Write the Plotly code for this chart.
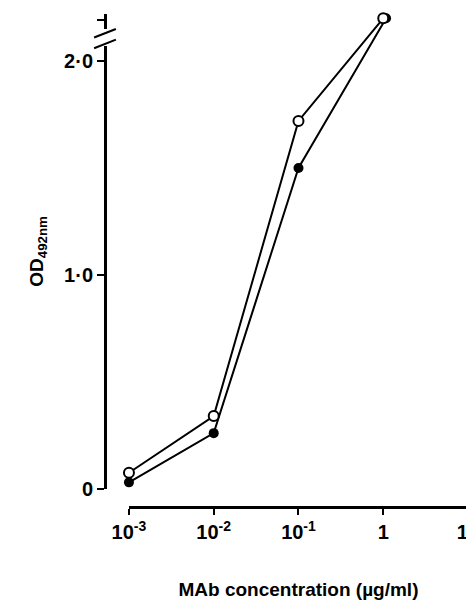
import plotly.graph_objects as go

conc = [1e-3, 1e-2, 1e-1, 1.0]
od_open = [0.075, 0.34, 1.72, 2.2]
conc_filled = [1e-3, 1e-2, 1e-1, 1.08]
od_filled = [0.03, 0.26, 1.50, 2.2]
xtick_vals = [1e-3, 1e-2, 1e-1, 1, 10]
xtick_text = ["<b>10<sup>-3</sup></b>", "<b>10<sup>-2</sup></b>", "<b>10<sup>-1</sup></b>", "<b>1</b>", "<b>10</b>"]
ytick_vals = [0, 1, 2, 2.19]
ytick_text = ["<b>0</b>", "<b>1·0</b>", "<b>2·0</b>", "<b><sup>></sup>2·0</b>"]

fig = go.Figure()
fig.add_trace(go.Scatter(x=conc_filled, y=od_filled, mode="lines+markers", cliponaxis=False,
    line=dict(color="black", width=2), marker=dict(size=10, color="black")))
fig.add_trace(go.Scatter(x=conc, y=od_open, mode="lines+markers", cliponaxis=False,
    line=dict(color="black", width=2),
    marker=dict(size=10, color="white", line=dict(color="black", width=2))))

tf = dict(family="Liberation Sans", size=20, color="black")
fig.update_layout(
    width=474, height=609, plot_bgcolor="white", paper_bgcolor="white",
    showlegend=False, margin=dict(l=97, r=14, t=6, b=110, autoexpand=False),
    font=dict(family="Liberation Sans", color="black"),
    xaxis=dict(type="log", range=[-3, 1], domain=[0.066, 1], anchor="free", position=0,
               tickvals=xtick_vals, ticktext=xtick_text, tickfont=tf, showline=True, linecolor="black",
               linewidth=3, ticks="outside", tickcolor="black", tickwidth=2, ticklen=6,
               showgrid=False, zeroline=False,
               title=dict(text="<b>MAb concentration (µg/ml)</b>", font=dict(size=19), standoff=40)),
    yaxis=dict(range=[0, 2.22], domain=[0.037, 1], anchor="free", position=0,
               tickvals=ytick_vals, ticktext=ytick_text, tickfont=tf, showline=True, linecolor="black",
               linewidth=3, ticks="outside", tickcolor="black", tickwidth=2, ticklen=7,
               showgrid=False, zeroline=False,
               title=dict(text="<b>OD<sub>492nm</sub></b>", font=dict(size=19), standoff=14)),
)
# axis break on y axis
fig.add_shape(type="rect", xref="paper", yref="y", x0=-0.02, x1=0.02, y0=2.07, y1=2.15,
              fillcolor="white", line=dict(width=0))
for yb in (2.08, 2.13):
    fig.add_shape(type="line", xref="paper", yref="y", x0=-0.03, x1=0.03, y0=yb - 0.02, y1=yb + 0.02,
                  line=dict(color="black", width=2))
# break marks on the lines
for yb in (2.04, 2.09):
    fig.add_shape(type="line", xref="x", yref="y", x0=-0.25, x1=-0.02, y0=yb - 0.04, y1=yb + 0.02,
                  line=dict(color="black", width=2))
fig.write_html("out.html")
